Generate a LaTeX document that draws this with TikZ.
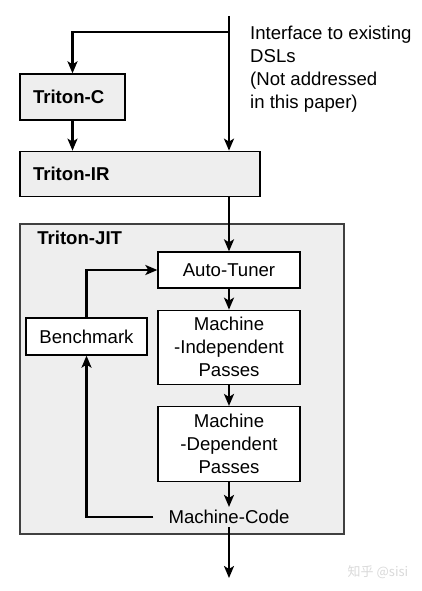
\documentclass[tikz,border=0pt]{standalone}
\usepackage{fontspec}
\setmainfont{Liberation Sans}
\newfontfamily\cjk{Noto Sans CJK SC}
\usepackage{tikz}
\usetikzlibrary {arrows.meta,
                 positioning}
\definecolor{boxgray}{HTML}{EEEEEE}
\definecolor{framegray}{HTML}{404040}
\tikzset{
        txt/.style={font=\fontsize{18.6pt}{23pt}\selectfont},
        base/.style={draw, txt, line width=1.3pt, inner sep=0pt},
        stage/.style={base, fill=boxgray, font=\fontsize{18.6pt}{23pt}\selectfont\bfseries,
                      align=left, inner xsep=13pt},
        pass/.style={base, fill=white, align=center, minimum width=142pt},
        jitbox/.style={draw=framegray, fill=boxgray, line width=1.8pt, inner sep=0pt},
        flow/.style={-{Stealth[length=12pt, width=10pt, inset=3pt]}, line width=2.4pt},
 }

\begin{document}
\begin{tikzpicture}[x=1pt, y=1pt]
    \useasboundingbox (0,0) rectangle (422,-591);

    % frame of the JIT
    \node[jitbox, minimum width=324pt, minimum height=310pt] (jit) at (182,-379) {};
    \node[txt, font=\fontsize{18.6pt}{23pt}\selectfont\bfseries, inner sep=0pt,
          anchor=north west] (jitlbl) at ([shift={(18pt,-8pt)}]jit.north west) {Triton-JIT};

    \node[stage, text width=79pt, minimum height=46pt] (tc) at (72.5,-97) {Triton-C};
    \node[stage, text width=214pt, minimum height=45pt,
          below right=30pt and 0pt of tc.south west] (tir) {Triton-IR};

    \node[pass, minimum height=36pt] (at) at (229,-270) {Auto-Tuner};
    \node[pass, minimum height=74pt, below=21pt of at] (mi) {Machine\\-Independent\\Passes};
    \node[pass, minimum height=75pt, below=21pt of mi] (md) {Machine\\-Dependent\\Passes};
    \node[txt, inner ysep=3pt, inner xsep=15pt] (mc) at (229,-517) {Machine-Code};
    \node[base, fill=white, minimum width=121pt, minimum height=37pt] (bm) at (86.5,-336.5) {Benchmark};

    \node[txt, align=left, anchor=north west, inner sep=0pt] (note) at (250,-26)
        {Interface to existing\\DSLs\\(Not addressed\\in this paper)};

    \coordinate (in) at (229,-16);
    \coordinate (split) at (229,-32);
    \coordinate (out) at (229,-578);

    % inputs
    \draw[flow] (in) -- (in |- tir.north);
    \draw[flow] (split) -| (tc.north);
    \draw[flow] (tc) -- (tc |- tir.north);
    \draw[flow] (at.north |- tir.south) -- (at.north);

    % passes
    \draw[flow] (at) -- (mi);
    \draw[flow] (mi) -- (md);
    \draw[flow] (md) -- (mc);
    \draw[flow] (mc) -- (out);

    % tuning loop
    \draw[flow] (mc.west) -| (bm.south);
    \draw[flow] (bm.north) |- (at.west);

    \node[text=gray!30, font=\cjk\fontsize{13pt}{13pt}\selectfont] (mark) at (378,-572) {知乎 @sisi};

\end{tikzpicture}
\end{document}
